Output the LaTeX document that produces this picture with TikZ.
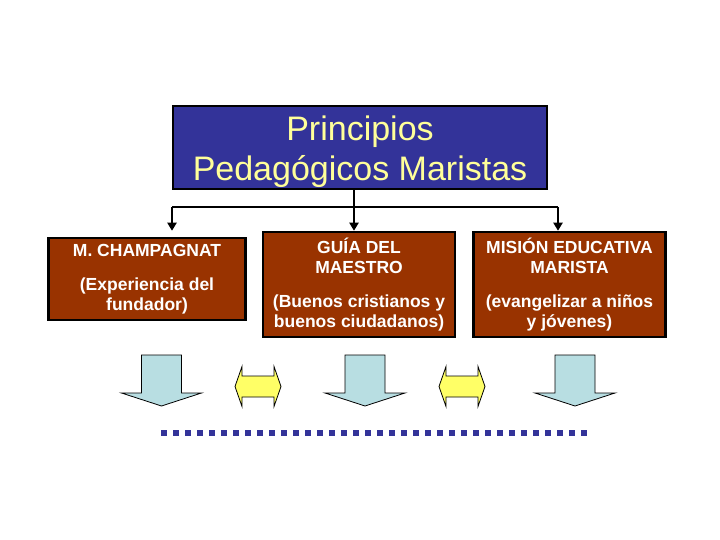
\documentclass[tikz,border=0pt]{standalone}
\usepackage{fontspec}
\setmainfont{Liberation Sans}
\usetikzlibrary{arrows.meta}

\definecolor{titleblue}{HTML}{333399}
\definecolor{titleyellow}{HTML}{FFFF99}
\definecolor{boxbrown}{HTML}{993300}
\definecolor{arrowblue}{HTML}{B8DEE2}
\definecolor{arrowyellow}{HTML}{FFFF66}

\begin{document}
\begin{tikzpicture}[x=1pt,y=-1pt,
    titlebox/.style={draw=black,line width=2.5pt,fill=titleblue,text=titleyellow,
        minimum width=374pt,minimum height=83pt,align=center,inner ysep=1pt,
        font=\fontsize{34}{40}\selectfont},
    pillarbox/.style={draw=black,line width=2.5pt,fill=boxbrown,text=white,
        minimum width=192pt,align=center,inner sep=0pt,
        font=\bfseries\fontsize{17.5}{19.5}\selectfont},
    link/.style={line width=2.7pt,-{Triangle[length=8pt,width=9pt]}},
    downarrow/.style={draw=black,line width=0.8pt,fill=arrowblue},
    bothway/.style={draw=black,line width=0.8pt,fill=arrowyellow}]
    \useasboundingbox (0,0) rectangle (720,540);

    \node[titlebox] (top) at (360,147.5) {\rule{0pt}{33pt}Principios\\Pedagógicos Maristas};

    \node[pillarbox,minimum width=197pt,minimum height=82pt] (champ) at (147,279)
        {M. CHAMPAGNAT\\[15pt](Experiencia del\\fundador)};
    \node[pillarbox,minimum height=105pt] (guia) at (359,284.5)
        {GUÍA DEL\\MAESTRO\\[15pt](Buenos cristianos y\\buenos ciudadanos)};
    \node[pillarbox,minimum height=105pt] (mision) at (569.5,284.5)
        {MISIÓN EDUCATIVA\\MARISTA\\[15pt](evangelizar a niños\\y jóvenes)};

    \coordinate (hub) at (354,207);
    \coordinate (hubl) at (172,207);
    \coordinate (hubr) at (558,207);
    \draw[line width=2.7pt] (top.south -| hub) -- (hub);
    \draw[line width=2.7pt] (hubl) -- (hubr);
    \draw[link] (hub) -- (hub |- guia.north);
    \draw[link] (hubl) -- (hubl |- guia.north);
    \draw[link] (hubr) -- (hubr |- guia.north);

    % big down arrows
    \foreach \cx in {161.5,365,575}
        \draw[downarrow] (\cx-20,355) -- (\cx+20,355) -- (\cx+20,393) -- (\cx+40,393)
            -- (\cx,406) -- (\cx-40,393) -- (\cx-20,393) -- cycle;

    % double arrows in between
    \foreach \cx in {258,462}
        \draw[bothway] (\cx-23,386.5) -- (\cx-16,366.5) -- (\cx-16,376) -- (\cx+16,376)
            -- (\cx+16,366.5) -- (\cx+23,386.5) -- (\cx+16,406.5) -- (\cx+16,397)
            -- (\cx-16,397) -- (\cx-16,406.5) -- cycle;

    \draw[titleblue,line width=5.5pt,dash pattern=on 5.5pt off 6.5pt] (161,433) -- (587,433);
\end{tikzpicture}
\end{document}
